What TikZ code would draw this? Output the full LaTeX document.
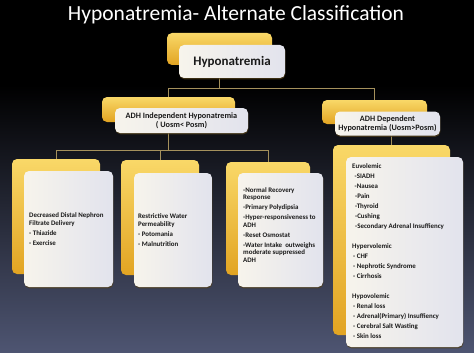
\documentclass[tikz,border=0pt]{standalone}
\usepackage{fontspec}
\setmainfont{Carlito}
\usetikzlibrary{calc,shadows}
\definecolor{bgbot}{RGB}{78,85,114}
\definecolor{ytop}{RGB}{249,216,104}
\definecolor{ybot}{RGB}{226,164,34}
\definecolor{wleft}{RGB}{247,244,236}
\definecolor{wright}{RGB}{226,227,237}
\definecolor{conncol}{RGB}{165,145,92}
\definecolor{shadowcol}{RGB}{80,62,25}
\pgfdeclarelayer{bg}
\pgfdeclarelayer{lines}
\pgfsetlayers{bg,lines,main}
\begin{document}
\begin{tikzpicture}[x=1pt,y=-1pt,
  ybox/.style={rectangle, rounded corners=5pt, top color=ytop, bottom color=ybot, inner sep=0pt, outer sep=0pt},
  wbox/.style={rectangle, rounded corners=5pt, left color=wleft, right color=wright, inner sep=0pt, outer sep=0pt,
     drop shadow={shadow xshift=0.4pt, shadow yshift=-1.3pt, fill=shadowcol, opacity=0.75}},
  cn/.style={draw=conncol, line width=1pt},
  ttl/.style={text=white, font=\fontsize{21.5}{24}\selectfont},
  topfont/.style={font=\fontsize{13}{15}\selectfont\bfseries, text=black!90},
  lvtwo/.style={font=\fontsize{8.2}{8.6}\selectfont\bfseries, text=black!90, align=center},
  lvthree/.style={font=\fontsize{6.9}{7.5}\selectfont\bfseries, text=black!90, align=left, anchor=west, inner sep=0pt},
  lvfour/.style={font=\fontsize{6.9}{10}\selectfont\bfseries, text=black!90, align=left, anchor=west, inner sep=0pt}
]
\useasboundingbox (0,0) rectangle (474,353);
\begin{pgfonlayer}{bg}
  \fill[black] (0,0) rectangle (474,353);
  \shade[top color=black, bottom color=bgbot] (0,85) rectangle (474,353);
\end{pgfonlayer}

\node[ttl, anchor=base] (title) at (236,21) {Hyponatremia- Alternate Classification};

% level 1
\node[ybox, minimum width=105pt, minimum height=32pt] (Y0) at (219.5,49) {};
\node[wbox, topfont, minimum width=106pt, minimum height=33pt] (W0) at (232,61.5) {Hyponatremia};

% level 2
\node[ybox, minimum width=133pt, minimum height=25pt] (YL) at (168.5,109.5) {};
\node[wbox, lvtwo, minimum width=133pt, minimum height=25pt] (WL) at (181.5,120.5) {ADH Independent Hyponatremia\\( Uosm< Posm)};
\node[ybox, minimum width=105pt, minimum height=24pt] (YR) at (374.5,112) {};
\node[wbox, lvtwo, minimum width=105pt, minimum height=24pt] (WR) at (387.5,123.5) {ADH Dependent\\Hyponatremia (Uosm>Posm)};

% level 3
\node[ybox, minimum width=88pt, minimum height=115pt] (Y1) at (56,216.5) {};
\node[wbox, minimum width=89pt, minimum height=116pt] (W1) at (68.5,229) {};
\node[ybox, minimum width=78pt, minimum height=115pt] (Y2) at (160,217.5) {};
\node[wbox, minimum width=78pt, minimum height=114pt] (W2) at (173,230) {};
\node[ybox, minimum width=84pt, minimum height=113pt] (Y3) at (268,218.5) {};
\node[wbox, minimum width=85pt, minimum height=114pt] (W3) at (280.5,230) {};
\node[ybox, minimum width=117pt, minimum height=190pt] (Y4) at (391.5,240) {};
\node[wbox, minimum width=117pt, minimum height=190pt] (W4) at (404.5,252) {};

\node[lvthree] (T1) at ($(W1.west)+(5,0)$) {Decreased Distal Nephron\\Filtrate Delivery\\[2.5pt]- Thiazide\\[2.5pt]- Exercise};
\node[lvthree] (T2) at ($(W2.west)+(4,0)$) {Restrictive Water\\Permeability\\[2.5pt]- Potomania\\[2.5pt]- Malnutrition};
\node[lvthree] (T3) at ($(W3.west)+(5,-5)$) {-Normal Recovery\\Response\\[2.5pt]-Primary Polydipsia\\[2.5pt]-Hyper-responsiveness to\\ADH\\[2.5pt]-Reset Osmostat\\[2.5pt]-Water Intake\ \ outweighs\\moderate suppressed\\ADH};
\node[lvfour] (T4) at ($(W4.west)+(6,-1)$) {Euvolemic\\
\hspace*{2.5pt}-SIADH\\
\hspace*{2.5pt}-Nausea\\
\hspace*{3pt}-Pain\\
\hspace*{3pt}-Thyroid\\
\hspace*{3pt}-Cushing\\
\hspace*{3pt}-Secondary Adrenal Insuffiency\\[10pt]
Hypervolemic\\
\hspace*{1pt}- CHF\\
\hspace*{1pt}- Nephrotic Syndrome\\
\hspace*{1pt}- Cirrhosis\\[10pt]
Hypovolemic\\
\hspace*{1pt}- Renal loss\\
\hspace*{1pt}- Adrenal(Primary) Insuffiency\\
\hspace*{1pt}- Cerebral Salt Wasting\\
\hspace*{1pt}- Skin loss};

\coordinate (bus1) at (0,89);
\coordinate (bus2) at (0,150);
\begin{pgfonlayer}{lines}
  \draw[cn] (Y0.center) -- (Y0.center |- bus1) -| (YL.north);
  \draw[cn] (Y0.center |- bus1) -| (YR.north);
  \draw[cn] (YL.center) -- (YL.center |- bus2) -| (Y1.north);
  \draw[cn] (YL.center |- bus2) -| (Y2.north);
  \draw[cn] (YL.center |- bus2) -| (Y3.north);
  \draw[cn] (Y4.north) -- (Y4.north |- WR.center);
\end{pgfonlayer}
\end{tikzpicture}
\end{document}
